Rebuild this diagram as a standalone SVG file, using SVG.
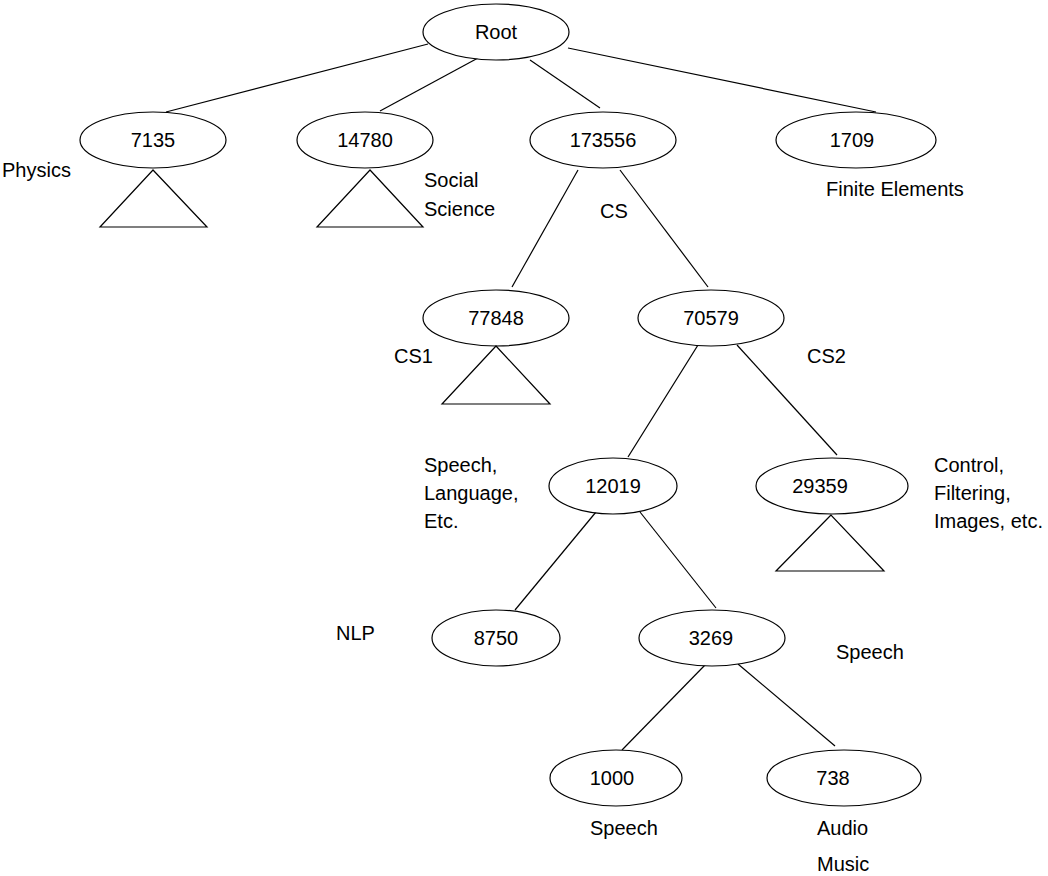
<svg xmlns="http://www.w3.org/2000/svg" width="1048" height="876" viewBox="0 0 1048 876">
<style>
ellipse,polygon{fill:#fff;stroke:#000;stroke-width:1.2}
line{stroke:#000;stroke-width:1.2}
text{font-family:"Liberation Sans",Arial,sans-serif;font-size:20px;fill:#000}
.c{text-anchor:middle}
</style>
<rect width="1048" height="876" fill="#fff"/>
<g id="connectors">
<line x1="428" y1="44" x2="166" y2="112"/>
<line x1="478" y1="58" x2="380" y2="111"/>
<line x1="530" y1="60" x2="600" y2="108"/>
<line x1="568" y1="48" x2="876" y2="112"/>
<line x1="578" y1="170" x2="512" y2="287"/>
<line x1="620" y1="170" x2="708" y2="287"/>
<line x1="698" y1="345" x2="628" y2="457"/>
<line x1="737" y1="345" x2="837" y2="455"/>
<line x1="596" y1="512" x2="515" y2="610"/>
<line x1="640" y1="512" x2="716" y2="608"/>
<line x1="706" y1="664" x2="622" y2="750"/>
<line x1="738" y1="664" x2="835" y2="746"/>
</g>
<g id="root"><ellipse cx="496" cy="32" rx="73" ry="28"/><text x="496" y="39" class="c">Root</text></g>
<g id="n7135"><ellipse cx="153" cy="140" rx="73" ry="28"/><text x="153" y="147" class="c">7135</text><polygon points="153,170 100,227 207,227"/></g>
<g id="n14780"><ellipse cx="365" cy="140" rx="68" ry="28"/><text x="365" y="147" class="c">14780</text><polygon points="370,170 317,227 423,227"/></g>
<g id="n173556"><ellipse cx="603" cy="140" rx="73" ry="28"/><text x="603" y="147" class="c">173556</text></g>
<g id="n1709"><ellipse cx="856" cy="140" rx="80" ry="28"/><text x="852" y="147" class="c">1709</text></g>
<g id="n77848"><ellipse cx="496" cy="318" rx="73" ry="28"/><text x="496" y="325" class="c">77848</text><polygon points="496,346 442,404 550,404"/></g>
<g id="n70579"><ellipse cx="711" cy="318" rx="73" ry="28"/><text x="711" y="325" class="c">70579</text></g>
<g id="n12019"><ellipse cx="613" cy="486" rx="64" ry="28"/><text x="613" y="493" class="c">12019</text></g>
<g id="n29359"><ellipse cx="832" cy="486" rx="76" ry="28"/><text x="820" y="493" class="c">29359</text><polygon points="831,515 776,571 884,571"/></g>
<g id="n8750"><ellipse cx="496" cy="638" rx="64" ry="28"/><text x="496" y="645" class="c">8750</text></g>
<g id="n3269"><ellipse cx="712" cy="638" rx="73" ry="28"/><text x="711" y="645" class="c">3269</text></g>
<g id="n1000"><ellipse cx="616" cy="778" rx="66" ry="28"/><text x="612" y="785" class="c">1000</text></g>
<g id="n738"><ellipse cx="844" cy="778" rx="77" ry="28"/><text x="833" y="785" class="c">738</text></g>
<g id="labels">
<text x="2" y="177">Physics</text>
<text x="424" y="187">Social</text><text x="424" y="216">Science</text>
<text x="600" y="218">CS</text>
<text x="826" y="196">Finite Elements</text>
<text x="394" y="363">CS1</text>
<text x="807" y="363">CS2</text>
<text x="424" y="472">Speech,</text><text x="424" y="500">Language,</text><text x="424" y="528">Etc.</text>
<text x="934" y="472">Control,</text><text x="934" y="500">Filtering,</text><text x="934" y="528">Images, etc.</text>
<text x="336" y="640">NLP</text>
<text x="836" y="659">Speech</text>
<text x="590" y="835">Speech</text>
<text x="817" y="835">Audio</text>
<text x="817" y="871">Music</text>
</g>
</svg>
